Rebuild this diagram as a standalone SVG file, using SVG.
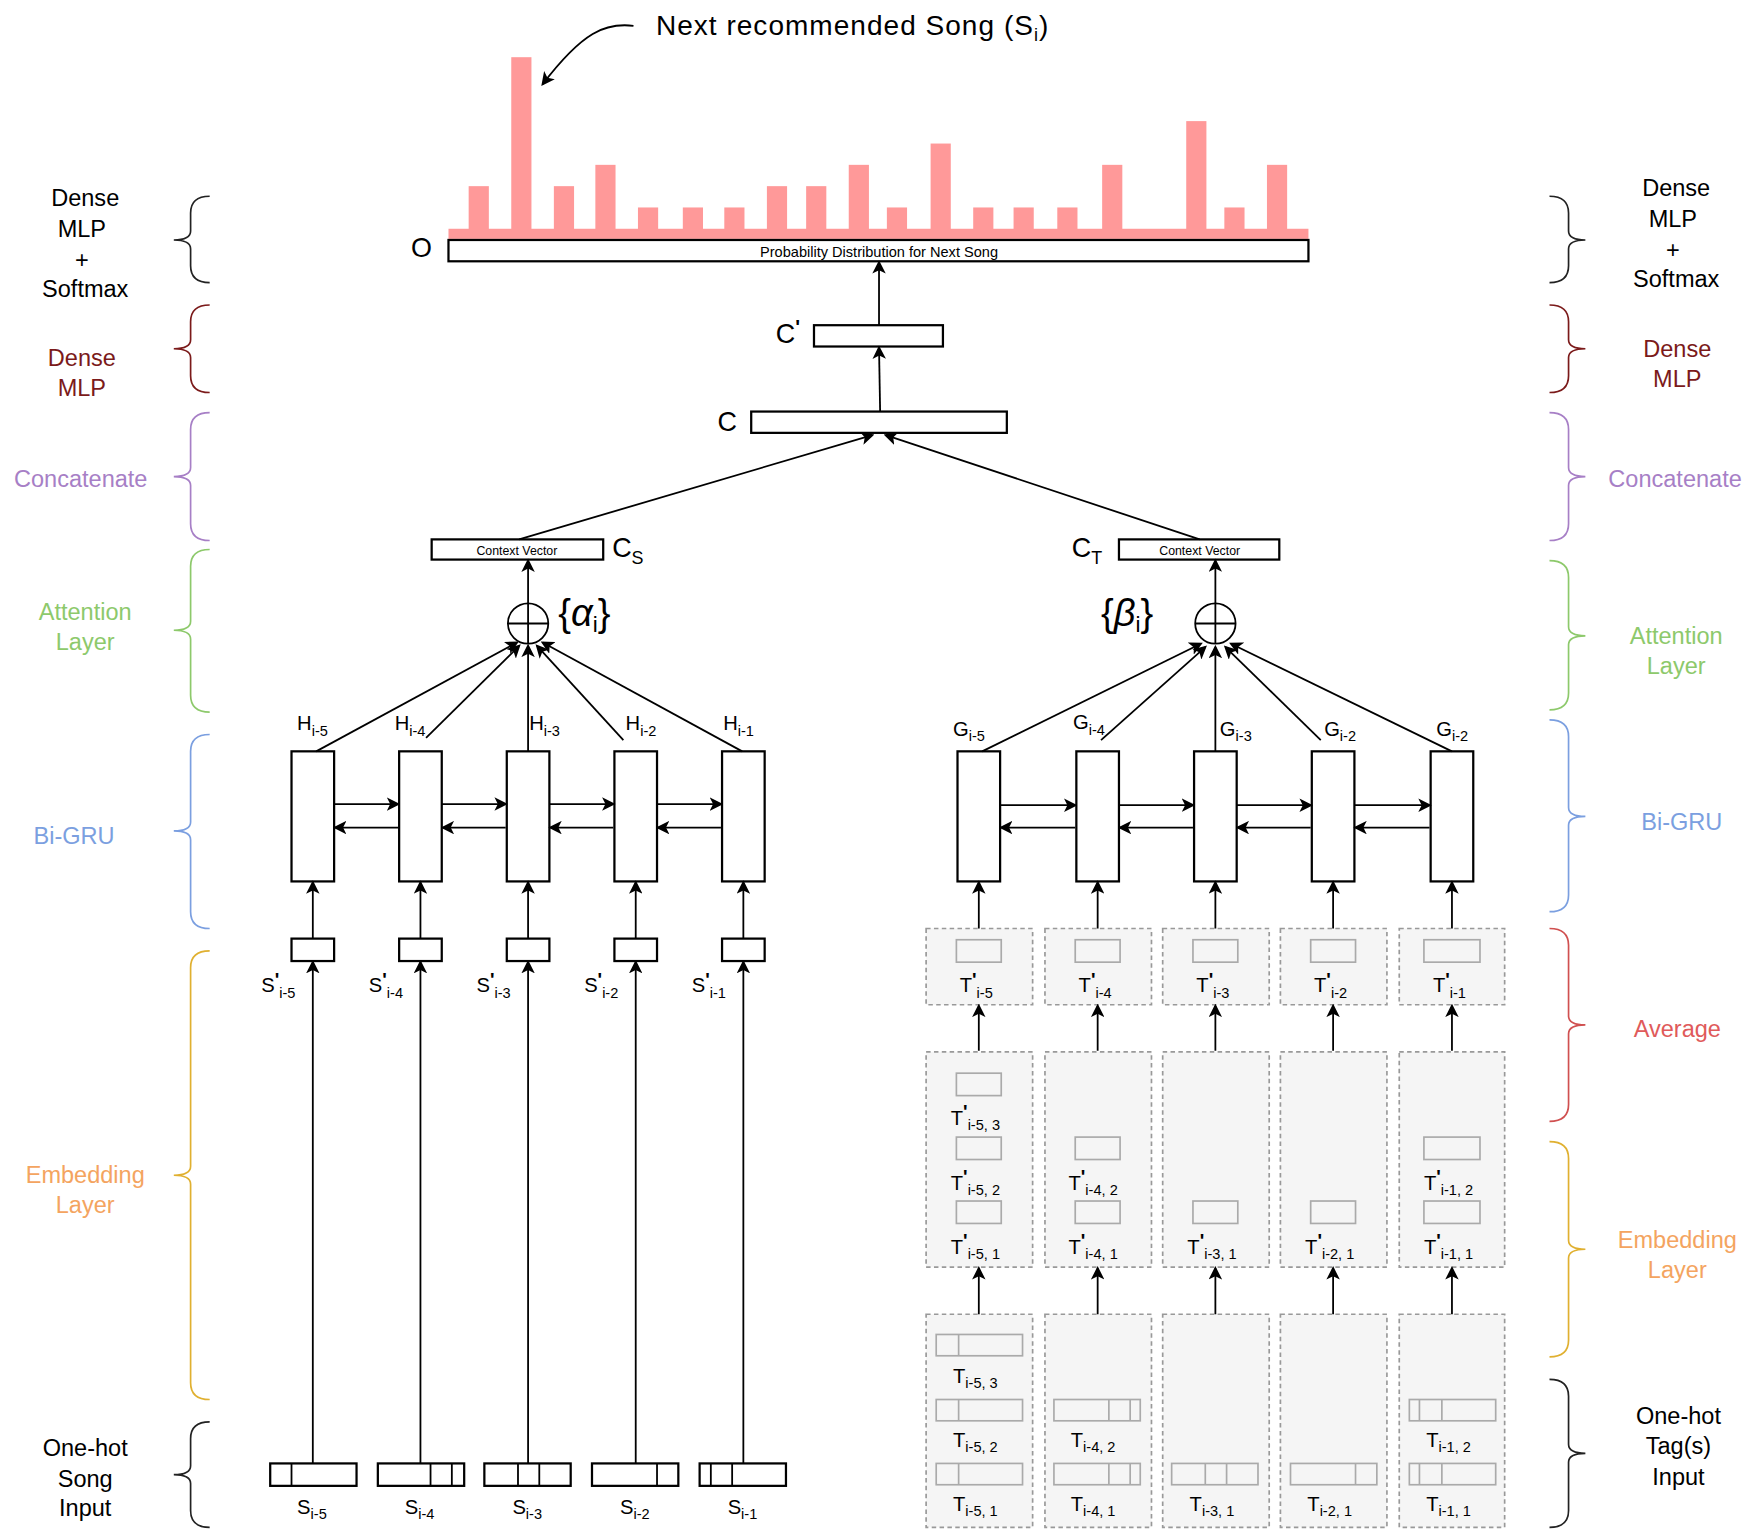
<svg xmlns="http://www.w3.org/2000/svg" width="1758" height="1533" viewBox="0 0 1758 1533">
<style>
text{font-family:"Liberation Sans",Arial,sans-serif;fill:#000}
.lbl{font-size:21px;text-anchor:middle}
.n{font-size:18px}
.s{font-size:13px}
.p{font-size:17px;font-weight:bold}
.box{fill:#fff;stroke:#000;stroke-width:2}
.gbox{fill:none;stroke:#aaa;stroke-width:1.5}
.dash{fill:#f5f5f5;stroke:#999;stroke-width:1.5;stroke-dasharray:4 3}
.ln{stroke:#000;stroke-width:1.6;fill:none}
.arr{stroke:#000;stroke-width:1.6;fill:none;marker-end:url(#ah)}
.br{fill:none;stroke-width:1.5}
.bar{fill:#ff9999}
</style>
<defs>
<marker id="ah" markerWidth="12" markerHeight="12" refX="10" refY="6" orient="auto" markerUnits="userSpaceOnUse"><path d="M0,0 L12,6 L0,12 L3,6 Z" fill="#000"/></marker>
</defs>
<rect width="1758" height="1533" fill="#fff"/>
<g transform="scale(1.1212,1.1214)">
<g id="braces">
<path class="br" stroke="#222" d="M187,175 Q170,175 170,190 L170,206 Q170,214 155,214 Q170,214 170,222 L170,237 Q170,252 187,252"/>
<path class="br" stroke="#7b1a1a" d="M187,272 Q170,272 170,287 L170,303 Q170,311 155,311 Q170,311 170,319 L170,335 Q170,350 187,350"/>
<path class="br" stroke="#a77fc6" d="M187,368 Q170,368 170,383 L170,417 Q170,425 155,425 Q170,425 170,433 L170,467 Q170,482 187,482"/>
<path class="br" stroke="#8dc96b" d="M187,490 Q170,490 170,505 L170,554 Q170,562 155,562 Q170,562 170,570 L170,620 Q170,635 187,635"/>
<path class="br" stroke="#7b9fe0" d="M187,655 Q170,655 170,670 L170,733 Q170,741 155,741 Q170,741 170,749 L170,813 Q170,828 187,828"/>
<path class="br" stroke="#e0b030" d="M187,848 Q170,848 170,863 L170,1040 Q170,1048 155,1048 Q170,1048 170,1056 L170,1233 Q170,1248 187,1248"/>
<path class="br" stroke="#222" d="M187,1268 Q170,1268 170,1283 L170,1307 Q170,1315 155,1315 Q170,1315 170,1323 L170,1347 Q170,1362 187,1362"/>
<path class="br" stroke="#222" d="M1382,175 Q1399,175 1399,190 L1399,206 Q1399,214 1414,214 Q1399,214 1399,222 L1399,237 Q1399,252 1382,252"/>
<path class="br" stroke="#7b1a1a" d="M1382,272 Q1399,272 1399,287 L1399,303 Q1399,311 1414,311 Q1399,311 1399,319 L1399,335 Q1399,350 1382,350"/>
<path class="br" stroke="#a77fc6" d="M1382,368 Q1399,368 1399,383 L1399,417 Q1399,425 1414,425 Q1399,425 1399,433 L1399,467 Q1399,482 1382,482"/>
<path class="br" stroke="#8dc96b" d="M1382,500 Q1399,500 1399,515 L1399,559 Q1399,567 1414,567 Q1399,567 1399,575 L1399,618 Q1399,633 1382,633"/>
<path class="br" stroke="#7b9fe0" d="M1382,642 Q1399,642 1399,657 L1399,720 Q1399,728 1414,728 Q1399,728 1399,736 L1399,798 Q1399,813 1382,813"/>
<path class="br" stroke="#d05050" d="M1382,828 Q1399,828 1399,843 L1399,906 Q1399,914 1414,914 Q1399,914 1399,922 L1399,985 Q1399,1000 1382,1000"/>
<path class="br" stroke="#e0b030" d="M1382,1018 Q1399,1018 1399,1033 L1399,1106 Q1399,1114 1414,1114 Q1399,1114 1399,1122 L1399,1195 Q1399,1210 1382,1210"/>
<path class="br" stroke="#222" d="M1382,1230 Q1399,1230 1399,1245 L1399,1288 Q1399,1296 1414,1296 Q1399,1296 1399,1304 L1399,1347 Q1399,1362 1382,1362"/>
</g>
<g id="side-labels">
<text class="lbl" x="76" y="184">Dense</text><text class="lbl" x="73" y="211">MLP</text><text class="lbl" x="73" y="239">+</text><text class="lbl" x="76" y="265">Softmax</text>
<text class="lbl" x="73" y="326" style="fill:#7b1a1a">Dense</text><text class="lbl" x="73" y="353" style="fill:#7b1a1a">MLP</text>
<text class="lbl" x="72" y="434" style="fill:#a77fc6">Concatenate</text>
<text class="lbl" x="76" y="553" style="fill:#8dc96b">Attention</text><text class="lbl" x="76" y="580" style="fill:#8dc96b">Layer</text>
<text class="lbl" x="66" y="753" style="fill:#7b9fe0">Bi-GRU</text>
<text class="lbl" x="76" y="1055" style="fill:#f4a460">Embedding</text><text class="lbl" x="76" y="1082" style="fill:#f4a460">Layer</text>
<text class="lbl" x="76" y="1298">One-hot</text><text class="lbl" x="76" y="1326">Song</text><text class="lbl" x="76" y="1352">Input</text>
<text class="lbl" x="1495" y="175">Dense</text><text class="lbl" x="1492" y="202">MLP</text><text class="lbl" x="1492" y="230">+</text><text class="lbl" x="1495" y="256">Softmax</text>
<text class="lbl" x="1496" y="318" style="fill:#7b1a1a">Dense</text><text class="lbl" x="1496" y="345" style="fill:#7b1a1a">MLP</text>
<text class="lbl" x="1494" y="434" style="fill:#a77fc6">Concatenate</text>
<text class="lbl" x="1495" y="574" style="fill:#8dc96b">Attention</text><text class="lbl" x="1495" y="601" style="fill:#8dc96b">Layer</text>
<text class="lbl" x="1500" y="740" style="fill:#7b9fe0">Bi-GRU</text>
<text class="lbl" x="1496" y="925" style="fill:#e05a5a">Average</text>
<text class="lbl" x="1496" y="1113" style="fill:#f4a460">Embedding</text><text class="lbl" x="1496" y="1140" style="fill:#f4a460">Layer</text>
<text class="lbl" x="1497" y="1270">One-hot</text><text class="lbl" x="1497" y="1297">Tag(s)</text><text class="lbl" x="1497" y="1324">Input</text>
</g>
<g id="output">
<g class="bars">
<rect class="bar" x="418" y="166" width="18" height="40"/>
<rect class="bar" x="456" y="51" width="18" height="155"/>
<rect class="bar" x="494" y="166" width="18" height="40"/>
<rect class="bar" x="531" y="147" width="18" height="59"/>
<rect class="bar" x="569" y="185" width="18" height="21"/>
<rect class="bar" x="609" y="185" width="18" height="21"/>
<rect class="bar" x="646" y="185" width="18" height="21"/>
<rect class="bar" x="684" y="166" width="18" height="40"/>
<rect class="bar" x="719" y="166" width="18" height="40"/>
<rect class="bar" x="757" y="147" width="18" height="59"/>
<rect class="bar" x="791" y="185" width="18" height="21"/>
<rect class="bar" x="830" y="128" width="18" height="78"/>
<rect class="bar" x="868" y="185" width="18" height="21"/>
<rect class="bar" x="904" y="185" width="18" height="21"/>
<rect class="bar" x="943" y="185" width="18" height="21"/>
<rect class="bar" x="983" y="147" width="18" height="59"/>
<rect class="bar" x="1058" y="108" width="18" height="98"/>
<rect class="bar" x="1092" y="185" width="18" height="21"/>
<rect class="bar" x="1130" y="147" width="18" height="59"/>
<rect class="bar" x="400" y="204" width="767" height="9"/>
</g>
<rect class="box" x="400" y="214" width="767" height="19"/>
<text x="784" y="229" font-size="13" text-anchor="middle">Probability Distribution for Next Song</text>
<text x="376" y="229" font-size="24" text-anchor="middle">O</text>
<text x="585" y="31" font-size="25" textLength="350">Next recommended Song (S<tspan font-size="16" dy="6">i</tspan><tspan dy="-6">)</tspan></text>
<path class="arr" d="M565,23 C540,20 520,28 484,75"/>
</g>
<g id="Cprime"><rect class="box" x="726" y="290" width="115" height="19"/><text x="692" y="306" font-size="24">C<tspan font-size="18" font-weight="bold" dy="-8">'</tspan></text></g>
<g id="C"><rect class="box" x="670" y="367" width="228" height="19"/><text x="640" y="384" font-size="24">C</text></g>
<g id="Cs"><rect class="box" x="385" y="481" width="153" height="18"/><text x="461" y="495" font-size="11" text-anchor="middle">Context Vector</text><text x="546" y="497" font-size="24">C<tspan font-size="16" dy="6">S</tspan></text></g>
<g id="Ct"><rect class="box" x="998" y="481" width="143" height="18"/><text x="1070" y="495" font-size="11" text-anchor="middle">Context Vector</text><text x="956" y="497" font-size="24">C<tspan font-size="16" dy="6">T</tspan></text></g>
<g id="attL"><circle cx="471" cy="556" r="18" fill="#fff" stroke="#000" stroke-width="1.6"/><path class="ln" d="M453,556 H489 M471,538 V574"/><text x="498" y="558" font-size="34">{<tspan font-style="italic">α</tspan><tspan font-size="20" dy="6">i</tspan><tspan dy="-6">}</tspan></text></g>
<g id="attR"><circle cx="1084" cy="556" r="18" fill="#fff" stroke="#000" stroke-width="1.6"/><path class="ln" d="M1066,556 H1102 M1084,538 V574"/><text x="982" y="558" font-size="34">{<tspan font-style="italic">β</tspan><tspan font-size="20" dy="6">i</tspan><tspan dy="-6">}</tspan></text></g>
<g id="leftGRU">
<rect class="box" x="260" y="670" width="38" height="116"/>
<rect class="box" x="356" y="670" width="38" height="116"/>
<rect class="box" x="452" y="670" width="38" height="116"/>
<rect class="box" x="548" y="670" width="38" height="116"/>
<rect class="box" x="644" y="670" width="38" height="116"/>
<text class="n" x="265" y="651">H<tspan class="s" dy="5">i-5</tspan></text>
<text class="n" x="352" y="651">H<tspan class="s" dy="5">i-4</tspan></text>
<text class="n" x="472" y="651">H<tspan class="s" dy="5">i-3</tspan></text>
<text class="n" x="558" y="651">H<tspan class="s" dy="5">i-2</tspan></text>
<text class="n" x="645" y="651">H<tspan class="s" dy="5">i-1</tspan></text>
</g>
<g id="leftEmb">
<rect class="box" x="260" y="837" width="38" height="20"/>
<rect class="box" x="356" y="837" width="38" height="20"/>
<rect class="box" x="452" y="837" width="38" height="20"/>
<rect class="box" x="548" y="837" width="38" height="20"/>
<rect class="box" x="644" y="837" width="38" height="20"/>
<text class="n" x="233" y="885">S<tspan class="p" dy="-6">'</tspan><tspan class="s" dy="11">i-5</tspan></text>
<text class="n" x="329" y="885">S<tspan class="p" dy="-6">'</tspan><tspan class="s" dy="11">i-4</tspan></text>
<text class="n" x="425" y="885">S<tspan class="p" dy="-6">'</tspan><tspan class="s" dy="11">i-3</tspan></text>
<text class="n" x="521" y="885">S<tspan class="p" dy="-6">'</tspan><tspan class="s" dy="11">i-2</tspan></text>
<text class="n" x="617" y="885">S<tspan class="p" dy="-6">'</tspan><tspan class="s" dy="11">i-1</tspan></text>
</g>
<g id="leftInput">
<rect class="box" x="241" y="1305" width="77" height="20"/><path class="ln" d="M260,1305 V1325"/>
<rect class="box" x="337" y="1305" width="77" height="20"/><path class="ln" d="M384,1305 V1325 M403,1305 V1325"/>
<rect class="box" x="432" y="1305" width="77" height="20"/><path class="ln" d="M462,1305 V1325 M481,1305 V1325"/>
<rect class="box" x="528" y="1305" width="77" height="20"/><path class="ln" d="M586,1305 V1325"/>
<rect class="box" x="624" y="1305" width="77" height="20"/><path class="ln" d="M634,1305 V1325 M653,1305 V1325"/>
<text class="n" x="265" y="1350">S<tspan class="s" dy="5">i-5</tspan></text>
<text class="n" x="361" y="1350">S<tspan class="s" dy="5">i-4</tspan></text>
<text class="n" x="457" y="1350">S<tspan class="s" dy="5">i-3</tspan></text>
<text class="n" x="553" y="1350">S<tspan class="s" dy="5">i-2</tspan></text>
<text class="n" x="649" y="1350">S<tspan class="s" dy="5">i-1</tspan></text>
</g>
<g id="rightTags">
<rect class="dash" x="826" y="828" width="95" height="68"/>
<rect class="dash" x="932" y="828" width="95" height="68"/>
<rect class="dash" x="1037" y="828" width="95" height="68"/>
<rect class="dash" x="1142" y="828" width="95" height="68"/>
<rect class="dash" x="1248" y="828" width="94" height="68"/>
<rect class="dash" x="826" y="938" width="95" height="192"/>
<rect class="dash" x="932" y="938" width="95" height="192"/>
<rect class="dash" x="1037" y="938" width="95" height="192"/>
<rect class="dash" x="1142" y="938" width="95" height="192"/>
<rect class="dash" x="1248" y="938" width="94" height="192"/>
<rect class="dash" x="826" y="1172" width="95" height="190"/>
<rect class="dash" x="932" y="1172" width="95" height="190"/>
<rect class="dash" x="1037" y="1172" width="95" height="190"/>
<rect class="dash" x="1142" y="1172" width="95" height="190"/>
<rect class="dash" x="1248" y="1172" width="94" height="190"/>
<rect class="gbox" x="853" y="838" width="40" height="20"/>
<rect class="gbox" x="959" y="838" width="40" height="20"/>
<rect class="gbox" x="1064" y="838" width="40" height="20"/>
<rect class="gbox" x="1169" y="838" width="40" height="20"/>
<rect class="gbox" x="1270" y="838" width="50" height="20"/>
<text class="n" x="856" y="885">T<tspan class="p" dy="-6">'</tspan><tspan class="s" dy="11">i-5</tspan></text>
<text class="n" x="962" y="885">T<tspan class="p" dy="-6">'</tspan><tspan class="s" dy="11">i-4</tspan></text>
<text class="n" x="1067" y="885">T<tspan class="p" dy="-6">'</tspan><tspan class="s" dy="11">i-3</tspan></text>
<text class="n" x="1172" y="885">T<tspan class="p" dy="-6">'</tspan><tspan class="s" dy="11">i-2</tspan></text>
<text class="n" x="1278" y="885">T<tspan class="p" dy="-6">'</tspan><tspan class="s" dy="11">i-1</tspan></text>
<rect class="gbox" x="853" y="957" width="40" height="20"/>
<rect class="gbox" x="853" y="1014" width="40" height="20"/>
<rect class="gbox" x="853" y="1071" width="40" height="20"/>
<rect class="gbox" x="959" y="1014" width="40" height="20"/>
<rect class="gbox" x="959" y="1071" width="40" height="20"/>
<rect class="gbox" x="1064" y="1071" width="40" height="20"/>
<rect class="gbox" x="1169" y="1071" width="40" height="20"/>
<rect class="gbox" x="1270" y="1014" width="50" height="20"/>
<rect class="gbox" x="1270" y="1071" width="50" height="20"/>
<text class="n" x="848" y="1003">T<tspan class="p" dy="-6">'</tspan><tspan class="s" dy="11">i-5, 3</tspan></text>
<text class="n" x="848" y="1061">T<tspan class="p" dy="-6">'</tspan><tspan class="s" dy="11">i-5, 2</tspan></text>
<text class="n" x="848" y="1118">T<tspan class="p" dy="-6">'</tspan><tspan class="s" dy="11">i-5, 1</tspan></text>
<text class="n" x="953" y="1061">T<tspan class="p" dy="-6">'</tspan><tspan class="s" dy="11">i-4, 2</tspan></text>
<text class="n" x="953" y="1118">T<tspan class="p" dy="-6">'</tspan><tspan class="s" dy="11">i-4, 1</tspan></text>
<text class="n" x="1059" y="1118">T<tspan class="p" dy="-6">'</tspan><tspan class="s" dy="11">i-3, 1</tspan></text>
<text class="n" x="1164" y="1118">T<tspan class="p" dy="-6">'</tspan><tspan class="s" dy="11">i-2, 1</tspan></text>
<text class="n" x="1270" y="1061">T<tspan class="p" dy="-6">'</tspan><tspan class="s" dy="11">i-1, 2</tspan></text>
<text class="n" x="1270" y="1118">T<tspan class="p" dy="-6">'</tspan><tspan class="s" dy="11">i-1, 1</tspan></text>
<rect class="gbox" x="835" y="1190" width="77" height="19"/><path class="gbox" d="M855,1190 V1209"/>
<rect class="gbox" x="835" y="1248" width="77" height="19"/><path class="gbox" d="M855,1248 V1267"/>
<rect class="gbox" x="835" y="1305" width="77" height="19"/><path class="gbox" d="M855,1305 V1324"/>
<rect class="gbox" x="940" y="1248" width="77" height="19"/><path class="gbox" d="M989,1248 V1267 M1008,1248 V1267"/>
<rect class="gbox" x="940" y="1305" width="77" height="19"/><path class="gbox" d="M989,1305 V1324 M1008,1305 V1324"/>
<rect class="gbox" x="1045" y="1305" width="77" height="19"/><path class="gbox" d="M1075,1305 V1324 M1094,1305 V1324"/>
<rect class="gbox" x="1151" y="1305" width="77" height="19"/><path class="gbox" d="M1209,1305 V1324"/>
<rect class="gbox" x="1257" y="1248" width="77" height="19"/><path class="gbox" d="M1266,1248 V1267 M1286,1248 V1267"/>
<rect class="gbox" x="1257" y="1305" width="77" height="19"/><path class="gbox" d="M1266,1305 V1324 M1286,1305 V1324"/>
<text class="n" x="850" y="1233">T<tspan class="s" dy="5">i-5, 3</tspan></text>
<text class="n" x="850" y="1290">T<tspan class="s" dy="5">i-5, 2</tspan></text>
<text class="n" x="850" y="1347">T<tspan class="s" dy="5">i-5, 1</tspan></text>
<text class="n" x="955" y="1290">T<tspan class="s" dy="5">i-4, 2</tspan></text>
<text class="n" x="955" y="1347">T<tspan class="s" dy="5">i-4, 1</tspan></text>
<text class="n" x="1061" y="1347">T<tspan class="s" dy="5">i-3, 1</tspan></text>
<text class="n" x="1166" y="1347">T<tspan class="s" dy="5">i-2, 1</tspan></text>
<text class="n" x="1272" y="1290">T<tspan class="s" dy="5">i-1, 2</tspan></text>
<text class="n" x="1272" y="1347">T<tspan class="s" dy="5">i-1, 1</tspan></text>
</g>
<g id="rightGRU">
<rect class="box" x="854" y="670" width="38" height="116"/>
<rect class="box" x="960" y="670" width="38" height="116"/>
<rect class="box" x="1065" y="670" width="38" height="116"/>
<rect class="box" x="1170" y="670" width="38" height="116"/>
<rect class="box" x="1276" y="670" width="38" height="116"/>
<text class="n" x="850" y="656">G<tspan class="s" dy="5">i-5</tspan></text>
<text class="n" x="957" y="650">G<tspan class="s" dy="5">i-4</tspan></text>
<text class="n" x="1088" y="656">G<tspan class="s" dy="5">i-3</tspan></text>
<text class="n" x="1181" y="656">G<tspan class="s" dy="5">i-2</tspan></text>
<text class="n" x="1281" y="656">G<tspan class="s" dy="5">i-2</tspan></text>
</g>
<g id="connectors">
<path class="arr" d="M784,290 V234"/>
<path class="arr" d="M785,367 L784,310"/>
<path class="arr" d="M463,481 L778,388"/>
<path class="arr" d="M1070,481 L790,388"/>
<path class="arr" d="M471,538 V500"/>
<path class="arr" d="M1084,538 V500"/>
<path class="arr" d="M282,670 L461,573"/>
<path class="arr" d="M380,658 L463,576"/>
<path class="arr" d="M471,670 V576"/>
<path class="arr" d="M556,660 L479,576"/>
<path class="arr" d="M662,670 L484,573"/>
<path class="arr" d="M876,670 L1071,574"/>
<path class="arr" d="M982,660 L1075,577"/>
<path class="arr" d="M1084,670 V577"/>
<path class="arr" d="M1178,660 L1093,577"/>
<path class="arr" d="M1295,670 L1098,574"/>
<path class="arr" d="M298,717 H355"/><path class="arr" d="M355,738 H299"/>
<path class="arr" d="M394,717 H451"/><path class="arr" d="M451,738 H395"/>
<path class="arr" d="M490,717 H547"/><path class="arr" d="M547,738 H491"/>
<path class="arr" d="M586,717 H643"/><path class="arr" d="M643,738 H587"/>
<path class="arr" d="M892,718 H959"/><path class="arr" d="M959,738 H893"/>
<path class="arr" d="M998,718 H1064"/><path class="arr" d="M1064,738 H999"/>
<path class="arr" d="M1103,718 H1169"/><path class="arr" d="M1169,738 H1104"/>
<path class="arr" d="M1208,718 H1275"/><path class="arr" d="M1275,738 H1209"/>
<path class="arr" d="M279,837 V787"/><path class="arr" d="M375,837 V787"/><path class="arr" d="M471,837 V787"/><path class="arr" d="M567,837 V787"/><path class="arr" d="M663,837 V787"/>
<path class="arr" d="M279,1305 V858"/><path class="arr" d="M375,1305 V858"/><path class="arr" d="M471,1305 V858"/><path class="arr" d="M567,1305 V858"/><path class="arr" d="M663,1305 V858"/>
<path class="arr" d="M873,828 V787"/><path class="arr" d="M979,828 V787"/><path class="arr" d="M1084,828 V787"/><path class="arr" d="M1189,828 V787"/><path class="arr" d="M1295,828 V787"/>
<path class="arr" d="M873,937 V897"/><path class="arr" d="M979,937 V897"/><path class="arr" d="M1084,937 V897"/><path class="arr" d="M1189,937 V897"/><path class="arr" d="M1295,937 V897"/>
<path class="arr" d="M873,1172 V1131"/><path class="arr" d="M979,1172 V1131"/><path class="arr" d="M1084,1172 V1131"/><path class="arr" d="M1189,1172 V1131"/><path class="arr" d="M1295,1172 V1131"/>
</g>
</g>
</svg>
